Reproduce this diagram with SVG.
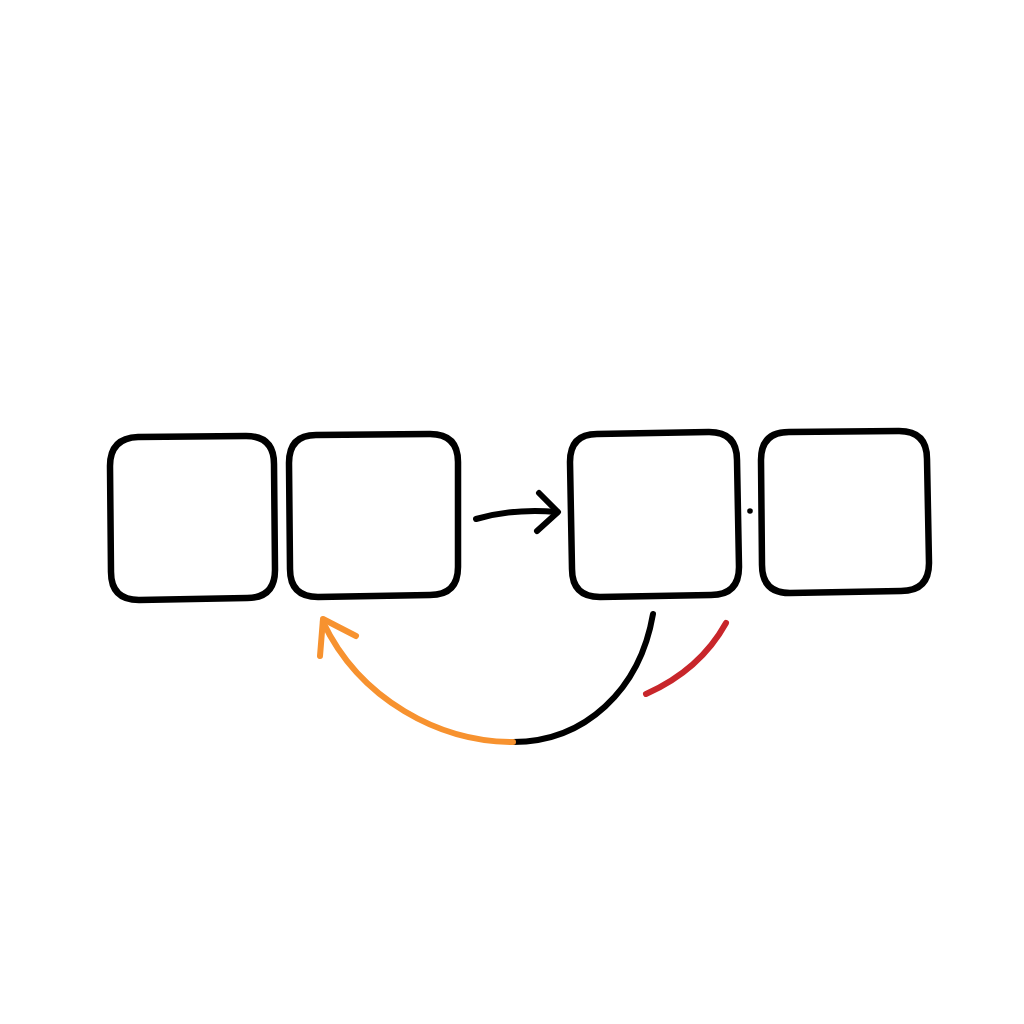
<svg xmlns="http://www.w3.org/2000/svg" width="1024" height="1024" viewBox="0 0 1024 1024">
<style>
.box{fill:none;stroke:#000;stroke-width:6.5;stroke-linejoin:round}
.ln{fill:none;stroke-width:6;stroke-linecap:round;stroke-linejoin:round}
</style>
<rect width="1024" height="1024" fill="#fff"/>
<g id="node1"><path class="box" d="M138,437 L246,436 Q274,436 274,464 L275,570 Q275,598 247,598 L139,600 Q111,600 111,572 L110,466 Q110,438 138,437 Z"/></g>
<g id="node2"><path class="box" d="M316,435 L430,434 Q458,434 458,462 L458,567 Q458,595 430,595 L318,597 Q290,597 290,569 L289,463 Q289,435 316,435 Z"/></g>
<g id="node3"><path class="box" d="M597,434 L709,432 Q737,432 737,460 L739,567 Q739,595 711,595 L600,597 Q572,597 572,569 L570,462 Q570,434 597,434 Z"/></g>
<g id="node4"><path class="box" d="M789,432 L899,431 Q927,431 927,459 L929,563 Q929,591 901,591 L790,593 Q762,593 762,565 L761,460 Q761,432 789,432 Z"/></g>
<g id="connectors">
<path class="ln" stroke="#000" d="M476,519 Q515,508 557,512"/>
<polyline class="ln" stroke="#000" points="539,493 558,512 537,531"/>
<circle cx="750" cy="511" r="2.8" fill="#000"/>
<path class="ln" stroke="#000" d="M653,614 C640,690 585,742 513,742" stroke-linecap="butt"/>
<path class="ln" stroke="#f7922f" d="M513,742 C440,742 360,700 323,622" stroke-linecap="butt"/>
<polyline class="ln" stroke="#f7922f" points="320,656 323,619 356,636"/>
<path class="ln" stroke="#c8262b" d="M726,623 Q700,670 646,694"/>
</g>
</svg>
